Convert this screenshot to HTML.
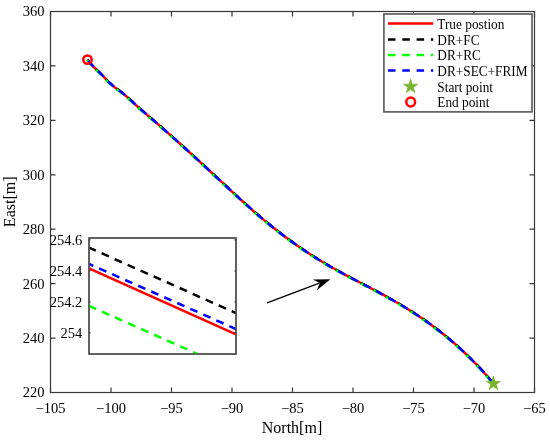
<!DOCTYPE html>
<html><head><meta charset="utf-8"><title>Trajectory</title>
<style>html,body{margin:0;padding:0;background:#fff;}body{width:550px;height:441px;position:relative;overflow:hidden;}</style>
</head><body>
<svg width="550" height="441" viewBox="0 0 550 441" style="position:absolute;left:0;top:0">
<path d="M87.40,59.60 L88.90,61.47 L90.40,63.23 L91.90,64.88 L93.40,66.58 L94.90,68.25 L96.40,69.66 L97.90,71.04 L99.40,72.41 L100.90,73.87 L102.40,75.41 L103.90,76.92 L105.40,78.61 L106.90,80.28 L108.40,81.80 L109.90,83.20 L111.40,84.55 L112.90,85.78 L114.40,87.01 L115.90,88.15 L117.40,89.25 L118.90,90.35 L120.40,91.46 L121.90,92.56 L123.40,93.78 L124.90,95.06 L126.40,96.35 L127.90,97.70 L129.40,99.04 L130.90,100.41 L132.40,101.79 L133.90,103.17 L135.40,104.56 L136.90,105.93 L138.40,107.31 L139.90,108.68 L141.40,109.97 L144.40,112.53 L147.40,115.10 L150.40,117.67 L153.40,120.24 L156.40,122.83 L159.40,125.43 L162.40,128.05 L165.40,130.69 L168.40,133.33 L171.40,135.99 L174.40,138.67 L177.40,141.35 L180.40,144.05 L183.40,146.76 L186.40,149.48 L189.40,152.21 L192.40,154.95 L195.40,157.69 L198.40,160.45 L201.40,163.21 L204.40,165.98 L207.40,168.75 L210.40,171.54 L213.40,174.32 L216.40,177.11 L219.40,179.91 L222.40,182.70 L225.40,185.49 L228.40,188.28 L231.40,191.05 L234.40,193.82 L237.40,196.58 L240.40,199.32 L243.40,202.04 L246.40,204.74 L249.40,207.42 L252.40,210.07 L255.40,212.69 L258.40,215.28 L261.40,217.84 L264.40,220.36 L267.40,222.84 L270.40,225.29 L273.40,227.70 L276.40,230.07 L279.40,232.41 L282.40,234.70 L285.40,236.97 L288.40,239.19 L291.40,241.38 L294.40,243.54 L297.40,245.66 L300.40,247.74 L303.40,249.78 L306.40,251.79 L309.40,253.76 L312.40,255.70 L315.40,257.60 L318.40,259.47 L321.40,261.30 L324.40,263.09 L327.40,264.85 L330.40,266.58 L333.40,268.28 L336.40,269.96 L339.40,271.61 L342.40,273.24 L345.40,274.85 L348.40,276.45 L351.40,278.04 L354.40,279.61 L357.40,281.18 L360.40,282.75 L363.40,284.31 L366.40,285.88 L369.40,287.45 L372.40,289.03 L375.40,290.62 L378.40,292.22 L381.40,293.83 L384.40,295.47 L387.40,297.13 L390.40,298.81 L393.40,300.51 L396.40,302.24 L399.40,304.00 L402.40,305.79 L405.40,307.62 L408.40,309.47 L411.40,311.36 L414.40,313.29 L417.40,315.26 L420.40,317.27 L423.40,319.32 L426.40,321.42 L429.40,323.56 L432.40,325.75 L435.40,327.99 L438.40,330.28 L441.40,332.62 L444.40,335.01 L447.40,337.47 L450.40,339.98 L453.40,342.55 L456.40,345.18 L459.40,347.88 L462.40,350.64 L465.40,353.47 L468.40,356.36 L471.40,359.33 L474.40,362.37 L477.40,365.48 L480.40,368.66 L483.40,371.93 L486.40,375.27 L489.40,378.70 L492.40,382.20 L493.40,383.40" fill="none" stroke="#ff0000" stroke-width="2.5" stroke-linejoin="round"/>
<path d="M87.45,59.55 L88.95,61.42 L90.45,63.18 L91.95,64.83 L93.45,66.53 L94.95,68.20 L96.45,69.61 L97.95,70.99 L99.45,72.36 L100.95,73.82 L102.45,75.36 L103.95,76.87 L105.45,78.56 L106.95,80.23 L108.45,81.75 L109.95,83.15 L111.45,84.50 L112.95,85.73 L114.45,86.96 L115.95,88.10 L117.45,89.20 L118.95,90.30 L120.45,91.41 L121.95,92.51 L123.45,93.73 L124.95,95.01 L126.45,96.30 L127.95,97.65 L129.45,98.99 L130.95,100.36 L132.45,101.74 L133.95,103.12 L135.45,104.51 L136.95,105.88 L138.45,107.26 L139.95,108.63 L141.45,109.92 L144.45,112.48 L147.45,115.05 L150.45,117.62 L153.45,120.19 L156.45,122.78 L159.45,125.38 L162.45,128.00 L165.45,130.64 L168.45,133.28 L171.45,135.94 L174.45,138.62 L177.45,141.30 L180.45,144.00 L183.45,146.71 L186.45,149.43 L189.45,152.16 L192.45,154.90 L195.45,157.64 L198.45,160.40 L201.45,163.16 L204.45,165.93 L207.45,168.70 L210.45,171.49 L213.45,174.27 L216.45,177.06 L219.45,179.86 L222.45,182.65 L225.45,185.44 L228.45,188.23 L231.45,191.00 L234.45,193.77 L237.45,196.53 L240.45,199.27 L243.45,201.99 L246.45,204.69 L249.45,207.37 L252.45,210.02 L255.45,212.64 L258.45,215.23 L261.45,217.79 L264.45,220.31 L267.45,222.79 L270.45,225.24 L273.45,227.65 L276.45,230.02 L279.45,232.36 L282.45,234.65 L285.45,236.92 L288.45,239.14 L291.45,241.33 L294.45,243.49 L297.45,245.61 L300.45,247.69 L303.45,249.73 L306.45,251.74 L309.45,253.71 L312.45,255.65 L315.45,257.55 L318.45,259.42 L321.45,261.25 L324.45,263.04 L327.45,264.80 L330.45,266.53 L333.45,268.23 L336.45,269.91 L339.45,271.56 L342.45,273.19 L345.45,274.80 L348.45,276.40 L351.45,277.99 L354.45,279.56 L357.45,281.13 L360.45,282.70 L363.45,284.26 L366.45,285.83 L369.45,287.40 L372.45,288.98 L375.45,290.57 L378.45,292.17 L381.45,293.78 L384.45,295.42 L387.45,297.08 L390.45,298.76 L393.45,300.46 L396.45,302.19 L399.45,303.95 L402.45,305.74 L405.45,307.57 L408.45,309.42 L411.45,311.31 L414.45,313.24 L417.45,315.21 L420.45,317.22 L423.45,319.27 L426.45,321.37 L429.45,323.51 L432.45,325.70 L435.45,327.94 L438.45,330.23 L441.45,332.57 L444.45,334.96 L447.45,337.42 L450.45,339.93 L453.45,342.50 L456.45,345.13 L459.45,347.83 L462.45,350.59 L465.45,353.42 L468.45,356.31 L471.45,359.28 L474.45,362.32 L477.45,365.43 L480.45,368.61 L483.45,371.88 L486.45,375.22 L489.45,378.65 L492.45,382.15 L493.45,383.35" fill="none" stroke="#000" stroke-width="2.5" stroke-dasharray="7.9 6.34" stroke-dashoffset="1.4"/>
<path d="M87.10,60.00 L88.60,61.87 L90.10,63.63 L91.60,65.28 L93.10,66.98 L94.60,68.65 L96.10,70.06 L97.60,71.44 L99.10,72.81 L100.60,74.27 L102.10,75.81 L103.60,77.32 L105.10,79.01 L106.60,80.68 L108.10,82.20 L109.60,83.60 L111.10,84.95 L112.60,86.18 L114.10,87.41 L115.60,88.55 L117.10,89.65 L118.60,90.75 L120.10,91.86 L121.60,92.96 L123.10,94.18 L124.60,95.46 L126.10,96.75 L127.60,98.10 L129.10,99.44 L130.60,100.81 L132.10,102.19 L133.60,103.57 L135.10,104.96 L136.60,106.33 L138.10,107.71 L139.60,109.08 L141.10,110.37 L144.10,112.93 L147.10,115.50 L150.10,118.07 L153.10,120.64 L156.10,123.23 L159.10,125.83 L162.10,128.45 L165.10,131.09 L168.10,133.73 L171.10,136.39 L174.10,139.07 L177.10,141.75 L180.10,144.45 L183.10,147.16 L186.10,149.88 L189.10,152.61 L192.10,155.35 L195.10,158.09 L198.10,160.85 L201.10,163.61 L204.10,166.38 L207.10,169.15 L210.10,171.94 L213.10,174.72 L216.10,177.51 L219.10,180.31 L222.10,183.10 L225.10,185.89 L228.10,188.68 L231.10,191.45 L234.10,194.22 L237.10,196.98 L240.10,199.72 L243.10,202.44 L246.10,205.14 L249.10,207.82 L252.10,210.47 L255.10,213.09 L258.10,215.68 L261.10,218.24 L264.10,220.76 L267.10,223.24 L270.10,225.69 L273.10,228.10 L276.10,230.47 L279.10,232.81 L282.10,235.10 L285.10,237.37 L288.10,239.59 L291.10,241.78 L294.10,243.94 L297.10,246.06 L300.10,248.14 L303.10,250.18 L306.10,252.19 L309.10,254.16 L312.10,256.10 L315.10,258.00 L318.10,259.87 L321.10,261.70 L324.10,263.49 L327.10,265.25 L330.10,266.98 L333.10,268.68 L336.10,270.36 L339.10,272.01 L342.10,273.64 L345.10,275.25 L348.10,276.85 L351.10,278.44 L354.10,280.01 L357.10,281.58 L360.10,283.15 L363.10,284.71 L366.10,286.28 L369.10,287.85 L372.10,289.43 L375.10,291.02 L378.10,292.62 L381.10,294.23 L384.10,295.87 L387.10,297.53 L390.10,299.21 L393.10,300.91 L396.10,302.64 L399.10,304.40 L402.10,306.19 L405.10,308.02 L408.10,309.87 L411.10,311.76 L414.10,313.69 L417.10,315.66 L420.10,317.67 L423.10,319.72 L426.10,321.82 L429.10,323.96 L432.10,326.15 L435.10,328.39 L438.10,330.68 L441.10,333.02 L444.10,335.41 L447.10,337.87 L450.10,340.38 L453.10,342.95 L456.10,345.58 L459.10,348.28 L462.10,351.04 L465.10,353.87 L468.10,356.76 L471.10,359.73 L474.10,362.77 L477.10,365.88 L480.10,369.06 L483.10,372.33 L486.10,375.67 L489.10,379.10 L492.10,382.60 L493.10,383.80" fill="none" stroke="#00ff00" stroke-width="2.5" stroke-dasharray="7.9 6.34" stroke-dashoffset="1.09"/>
<path d="M87.40,59.60 L88.90,61.47 L90.40,63.23 L91.90,64.88 L93.40,66.58 L94.90,68.25 L96.40,69.66 L97.90,71.04 L99.40,72.41 L100.90,73.87 L102.40,75.41 L103.90,76.92 L105.40,78.61 L106.90,80.28 L108.40,81.80 L109.90,83.20 L111.40,84.55 L112.90,85.78 L114.40,87.01 L115.90,88.15 L117.40,89.25 L118.90,90.35 L120.40,91.46 L121.90,92.56 L123.40,93.78 L124.90,95.06 L126.40,96.35 L127.90,97.70 L129.40,99.04 L130.90,100.41 L132.40,101.79 L133.90,103.17 L135.40,104.56 L136.90,105.93 L138.40,107.31 L139.90,108.68 L141.40,109.97 L144.40,112.53 L147.40,115.10 L150.40,117.67 L153.40,120.24 L156.40,122.83 L159.40,125.43 L162.40,128.05 L165.40,130.69 L168.40,133.33 L171.40,135.99 L174.40,138.67 L177.40,141.35 L180.40,144.05 L183.40,146.76 L186.40,149.48 L189.40,152.21 L192.40,154.95 L195.40,157.69 L198.40,160.45 L201.40,163.21 L204.40,165.98 L207.40,168.75 L210.40,171.54 L213.40,174.32 L216.40,177.11 L219.40,179.91 L222.40,182.70 L225.40,185.49 L228.40,188.28 L231.40,191.05 L234.40,193.82 L237.40,196.58 L240.40,199.32 L243.40,202.04 L246.40,204.74 L249.40,207.42 L252.40,210.07 L255.40,212.69 L258.40,215.28 L261.40,217.84 L264.40,220.36 L267.40,222.84 L270.40,225.29 L273.40,227.70 L276.40,230.07 L279.40,232.41 L282.40,234.70 L285.40,236.97 L288.40,239.19 L291.40,241.38 L294.40,243.54 L297.40,245.66 L300.40,247.74 L303.40,249.78 L306.40,251.79 L309.40,253.76 L312.40,255.70 L315.40,257.60 L318.40,259.47 L321.40,261.30 L324.40,263.09 L327.40,264.85 L330.40,266.58 L333.40,268.28 L336.40,269.96 L339.40,271.61 L342.40,273.24 L345.40,274.85 L348.40,276.45 L351.40,278.04 L354.40,279.61 L357.40,281.18 L360.40,282.75 L363.40,284.31 L366.40,285.88 L369.40,287.45 L372.40,289.03 L375.40,290.62 L378.40,292.22 L381.40,293.83 L384.40,295.47 L387.40,297.13 L390.40,298.81 L393.40,300.51 L396.40,302.24 L399.40,304.00 L402.40,305.79 L405.40,307.62 L408.40,309.47 L411.40,311.36 L414.40,313.29 L417.40,315.26 L420.40,317.27 L423.40,319.32 L426.40,321.42 L429.40,323.56 L432.40,325.75 L435.40,327.99 L438.40,330.28 L441.40,332.62 L444.40,335.01 L447.40,337.47 L450.40,339.98 L453.40,342.55 L456.40,345.18 L459.40,347.88 L462.40,350.64 L465.40,353.47 L468.40,356.36 L471.40,359.33 L474.40,362.37 L477.40,365.48 L480.40,368.66 L483.40,371.93 L486.40,375.27 L489.40,378.70 L492.40,382.20 L493.40,383.40" fill="none" stroke="#0000ff" stroke-width="2.5" stroke-dasharray="7.9 6.34" stroke-dashoffset="12.84"/>
<circle cx="87.5" cy="59.6" r="4.2" fill="none" stroke="#ff0000" stroke-width="2.5"/>
<polygon points="493.40,376.00 495.11,381.25 500.63,381.25 496.16,384.50 497.87,389.75 493.40,386.50 488.93,389.75 490.64,384.50 486.17,381.25 491.69,381.25" fill="#78b42c" stroke="#78b42c" stroke-width="0.6"/>
<rect x="50.5" y="11.5" width="484.0" height="381.0" fill="none" stroke="#383838" stroke-width="1.2"/>
<path d="M50.50,392.5 V387.5 M50.50,11.5 V16.5 M111.00,392.5 V387.5 M111.00,11.5 V16.5 M171.50,392.5 V387.5 M171.50,11.5 V16.5 M232.00,392.5 V387.5 M232.00,11.5 V16.5 M292.50,392.5 V387.5 M292.50,11.5 V16.5 M353.00,392.5 V387.5 M353.00,11.5 V16.5 M413.50,392.5 V387.5 M413.50,11.5 V16.5 M474.00,392.5 V387.5 M474.00,11.5 V16.5 M534.50,392.5 V387.5 M534.50,11.5 V16.5 M50.5,392.50 H55.5 M534.5,392.50 H529.5 M50.5,338.07 H55.5 M534.5,338.07 H529.5 M50.5,283.64 H55.5 M534.5,283.64 H529.5 M50.5,229.21 H55.5 M534.5,229.21 H529.5 M50.5,174.79 H55.5 M534.5,174.79 H529.5 M50.5,120.36 H55.5 M534.5,120.36 H529.5 M50.5,65.93 H55.5 M534.5,65.93 H529.5 M50.5,11.50 H55.5 M534.5,11.50 H529.5" stroke="#383838" stroke-width="1.2" fill="none"/>
<text x="50.50" y="412.5" font-family="Liberation Serif, Times New Roman, serif" font-size="14.5" text-anchor="middle" fill="#000">−105</text>
<text x="111.00" y="412.5" font-family="Liberation Serif, Times New Roman, serif" font-size="14.5" text-anchor="middle" fill="#000">−100</text>
<text x="171.50" y="412.5" font-family="Liberation Serif, Times New Roman, serif" font-size="14.5" text-anchor="middle" fill="#000">−95</text>
<text x="232.00" y="412.5" font-family="Liberation Serif, Times New Roman, serif" font-size="14.5" text-anchor="middle" fill="#000">−90</text>
<text x="292.50" y="412.5" font-family="Liberation Serif, Times New Roman, serif" font-size="14.5" text-anchor="middle" fill="#000">−85</text>
<text x="353.00" y="412.5" font-family="Liberation Serif, Times New Roman, serif" font-size="14.5" text-anchor="middle" fill="#000">−80</text>
<text x="413.50" y="412.5" font-family="Liberation Serif, Times New Roman, serif" font-size="14.5" text-anchor="middle" fill="#000">−75</text>
<text x="474.00" y="412.5" font-family="Liberation Serif, Times New Roman, serif" font-size="14.5" text-anchor="middle" fill="#000">−70</text>
<text x="534.50" y="412.5" font-family="Liberation Serif, Times New Roman, serif" font-size="14.5" text-anchor="middle" fill="#000">−65</text>
<text x="44.5" y="397.40" font-family="Liberation Serif, Times New Roman, serif" font-size="14.5" text-anchor="end" fill="#000">220</text>
<text x="44.5" y="342.97" font-family="Liberation Serif, Times New Roman, serif" font-size="14.5" text-anchor="end" fill="#000">240</text>
<text x="44.5" y="288.54" font-family="Liberation Serif, Times New Roman, serif" font-size="14.5" text-anchor="end" fill="#000">260</text>
<text x="44.5" y="234.11" font-family="Liberation Serif, Times New Roman, serif" font-size="14.5" text-anchor="end" fill="#000">280</text>
<text x="44.5" y="179.69" font-family="Liberation Serif, Times New Roman, serif" font-size="14.5" text-anchor="end" fill="#000">300</text>
<text x="44.5" y="125.26" font-family="Liberation Serif, Times New Roman, serif" font-size="14.5" text-anchor="end" fill="#000">320</text>
<text x="44.5" y="70.83" font-family="Liberation Serif, Times New Roman, serif" font-size="14.5" text-anchor="end" fill="#000">340</text>
<text x="44.5" y="16.40" font-family="Liberation Serif, Times New Roman, serif" font-size="14.5" text-anchor="end" fill="#000">360</text>
<text x="292" y="433.2" font-family="Liberation Serif, Times New Roman, serif" font-size="16" text-anchor="middle" fill="#000">North[m]</text>
<text transform="translate(14.9,201.8) rotate(-90)" x="0" y="0" font-family="Liberation Serif, Times New Roman, serif" font-size="16" text-anchor="middle" fill="#000">East[m]</text>
<line x1="267.1" y1="302.9" x2="319.3" y2="283.1" stroke="#000" stroke-width="1.3"/>
<polygon points="330.4,279.2 312.8,279.5 319.8,283 316.9,290.3" fill="#000"/>
<rect x="89" y="238" width="147" height="116" fill="#fff" stroke="#383838" stroke-width="1.2"/>
<clipPath id="ic"><rect x="89" y="238" width="147" height="116"/></clipPath>
<g clip-path="url(#ic)">
<line x1="89" y1="268.5" x2="236" y2="334.3" stroke="#ff0000" stroke-width="2.5"/>
<line x1="89" y1="247.6" x2="236" y2="313.1" stroke="#000" stroke-width="2.5" stroke-dasharray="7.9 6.34" stroke-dashoffset="0.4"/>
<line x1="89" y1="305.9" x2="236" y2="371.02099999999996" stroke="#00ff00" stroke-width="2.5" stroke-dasharray="7.9 6.34" stroke-dashoffset="0"/>
<line x1="89" y1="264" x2="236" y2="329" stroke="#0000ff" stroke-width="2.5" stroke-dasharray="7.9 6.34" stroke-dashoffset="3.2"/>
</g>
<rect x="89" y="238" width="147" height="116" fill="none" stroke="#555" stroke-width="1.5"/>
<text x="82.3" y="244.60" font-family="Liberation Serif, Times New Roman, serif" font-size="14.5" text-anchor="end" fill="#000">254.6</text>
<text x="82.3" y="275.60" font-family="Liberation Serif, Times New Roman, serif" font-size="14.5" text-anchor="end" fill="#000">254.4</text>
<text x="82.3" y="306.60" font-family="Liberation Serif, Times New Roman, serif" font-size="14.5" text-anchor="end" fill="#000">254.2</text>
<text x="82.3" y="337.60" font-family="Liberation Serif, Times New Roman, serif" font-size="14.5" text-anchor="end" fill="#000">254</text>
<path d="M89,239.80 H90.5 M236,239.80 H234.5 M89,270.80 H90.5 M236,270.80 H234.5 M89,301.80 H90.5 M236,301.80 H234.5 M89,332.80 H90.5 M236,332.80 H234.5" stroke="#383838" stroke-width="1.2" fill="none"/>
<rect x="383.9" y="14" width="148.10000000000002" height="97.9" fill="#fff" stroke="#555" stroke-width="1.6"/>
<line x1="388" y1="23.6" x2="433.2" y2="23.6" stroke="#ff0000" stroke-width="2.5"/>
<line x1="388" y1="39.4" x2="433.2" y2="39.4" stroke="#000" stroke-width="2.5" stroke-dasharray="7.5 6.8"/>
<line x1="388" y1="55.0" x2="433.2" y2="55.0" stroke="#00ff00" stroke-width="2.5" stroke-dasharray="7.5 6.8"/>
<line x1="388" y1="70.6" x2="433.2" y2="70.6" stroke="#0000ff" stroke-width="2.5" stroke-dasharray="7.5 6.8"/>
<polygon points="410.60,78.90 412.31,84.15 417.83,84.15 413.36,87.40 415.07,92.65 410.60,89.40 406.13,92.65 407.84,87.40 403.37,84.15 408.89,84.15" fill="#78b42c" stroke="#78b42c" stroke-width="0.6"/>
<circle cx="410.7" cy="102" r="4.4" fill="none" stroke="#ff0000" stroke-width="2.5"/>
<text transform="translate(437.3,28.80) scale(0.95,1)" x="0" y="0" font-family="Liberation Serif, Times New Roman, serif" font-size="14.0" fill="#000">True postion</text>
<text transform="translate(437.3,44.60) scale(0.95,1)" x="0" y="0" font-family="Liberation Serif, Times New Roman, serif" font-size="14.0" fill="#000">DR+FC</text>
<text transform="translate(437.3,60.20) scale(0.95,1)" x="0" y="0" font-family="Liberation Serif, Times New Roman, serif" font-size="14.0" fill="#000">DR+RC</text>
<text transform="translate(437.3,75.80) scale(0.95,1)" x="0" y="0" font-family="Liberation Serif, Times New Roman, serif" font-size="14.0" fill="#000">DR+SEC+FRIM</text>
<text transform="translate(437.3,91.60) scale(0.95,1)" x="0" y="0" font-family="Liberation Serif, Times New Roman, serif" font-size="14.0" fill="#000">Start point</text>
<text transform="translate(437.3,107.20) scale(0.95,1)" x="0" y="0" font-family="Liberation Serif, Times New Roman, serif" font-size="14.0" fill="#000">End point</text>
</svg>
</body></html>
